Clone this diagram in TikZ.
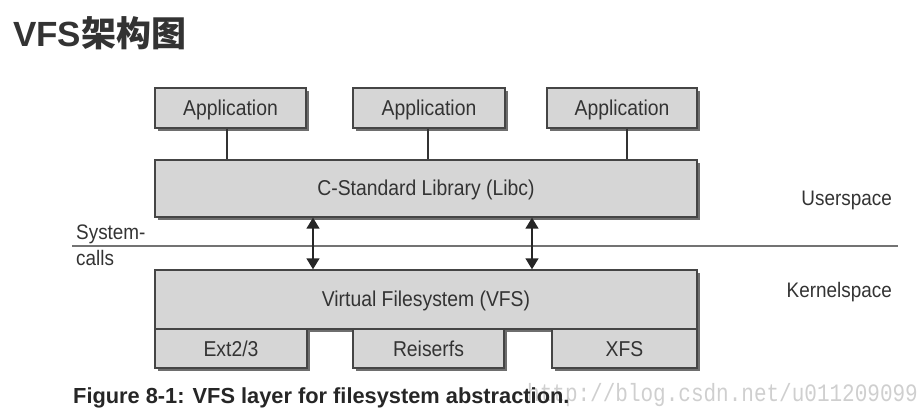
\documentclass[tikz,border=0pt]{standalone}
\usepackage{fontspec}
\setmainfont{Liberation Sans}
\newfontfamily\condfont[FakeStretch=0.9]{Liberation Sans}
\newfontfamily\cjkfont{Noto Sans CJK SC}
\newfontfamily\wmfont[FakeStretch=0.84]{Liberation Mono}
\usetikzlibrary{shadows,arrows.meta}
\definecolor{boxgray}{HTML}{D6D6D6}
\definecolor{edgegray}{HTML}{454545}
\definecolor{shadowgray}{HTML}{6E6E6E}
\definecolor{textgray}{HTML}{333333}
\definecolor{markgray}{HTML}{CFCFCF}

\begin{document}
\begin{tikzpicture}[x=1pt, y=-1pt,
  layer/.style={draw=edgegray, line width=1.4pt, fill=boxgray, inner sep=0pt,
    drop shadow={shadow xshift=3pt, shadow yshift=-3pt, fill=shadowgray, opacity=1},
    text=textgray, text height=15pt, text depth=0pt,
    font=\condfont\fontsize{21.5}{25}\selectfont},
  label/.style={inner sep=0pt, text=textgray, font=\condfont\fontsize{21}{26}\selectfont},
  wire/.style={draw=textgray, line width=1.2pt},
  sysarrow/.style={draw=black!85, line width=1.5pt,
    {Triangle[width=13pt,length=11pt]}-{Triangle[width=13pt,length=11pt]}}]
\useasboundingbox (0,0) rectangle (922,414);

% title
\node [anchor=base west, inner sep=0pt, text=textgray,
  font=\fontsize{35}{40}\selectfont\bfseries] (title) at (13,47)
  {VFS{\cjkfont\bfseries 架构图}};

% userspace / kernelspace border
\coordinate (sepL) at (72,246);
\coordinate (sepR) at (898,246);
\draw [draw=black!55, line width=1.4pt] (sepL) -- (sepR);

% user side
\node [layer, minimum width=151pt, minimum height=40pt] (app1) at (230.5,108) {Application};
\node [layer, minimum width=152pt, minimum height=40pt] (app2) at (429,108) {Application};
\node [layer, minimum width=150pt, minimum height=40pt] (app3) at (622,108) {Application};
\node [layer, minimum width=542pt, minimum height=57pt] (libc) at (426,188.5) {C-Standard Library (Libc)};

\draw [wire] ([xshift=-3.5pt]app1.south) -- ([xshift=-3.5pt]app1.south |- libc.north);
\draw [wire] ([xshift=-1pt]app2.south) -- ([xshift=-1pt]app2.south |- libc.north);
\draw [wire] ([xshift=5pt]app3.south) -- ([xshift=5pt]app3.south |- libc.north);

% kernel side
\node [layer, minimum width=542pt, minimum height=59pt] (vfs) at (426,299.5) {Virtual Filesystem (VFS)};
\node [layer, minimum width=152pt, minimum height=39pt] (ext) at (231,348.5) {Ext2/3};
\node [layer, minimum width=151pt, minimum height=39pt] (reiser) at (428.5,348.5) {Reiserfs};
\node [layer, minimum width=145pt, minimum height=39pt] (xfs) at (624.5,348.5) {XFS};

% system calls
\draw [sysarrow] ([xshift=-113pt]libc.south) -- ([xshift=-113pt]vfs.north);
\draw [sysarrow] ([xshift=106pt]libc.south) -- ([xshift=106pt]vfs.north);

\node [label, anchor=base west, align=left] (syscalls) at (76,266) {System-\\calls};
\node [label, anchor=base east] (user) at (892,206) {Userspace};
\node [label, anchor=base east] (kernel) at (892,298) {Kernelspace};

% caption and watermark
\node [anchor=base west, inner sep=0pt, text=markgray,
  font=\wmfont\fontsize{25}{28}\selectfont] (mark) at (527,401) {http://blog.csdn.net/u011209099};
\node [anchor=base west, inner sep=0pt, text=black!85,
  font=\fontsize{21.8}{26}\selectfont\bfseries] (caption) at (73,403)
  {Figure 8-1: VFS layer for filesystem abstraction.};
\end{tikzpicture}
\end{document}
